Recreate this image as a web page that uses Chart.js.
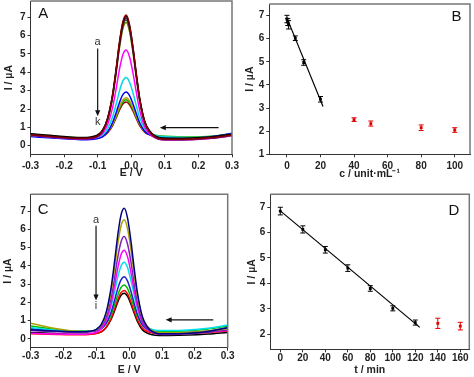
<!DOCTYPE html>
<html>
<head>
<meta charset="utf-8">
<script src="https://cdn.jsdelivr.net/npm/chart.js@4.4.1/dist/chart.umd.min.js"></script>
<style>
  html, body { margin: 0; padding: 0; background: #fff; }
  #wrap { position: relative; width: 474px; height: 377px; }
  #wrap canvas { position: absolute; left: 0; top: 0; }
</style>
</head>
<body>
<div id="wrap">
  <canvas id="chA" width="474" height="377"></canvas>
  <canvas id="chB" width="474" height="377"></canvas>
  <canvas id="chC" width="474" height="377"></canvas>
  <canvas id="chD" width="474" height="377"></canvas>
</div>
<script>
// --- Data ---

// potential axis shared by the voltammograms (V)
const potential = [-0.30,-0.22,-0.15,-0.12,-0.10,-0.085,-0.07,-0.055,-0.045,-0.035,-0.025,-0.015,-0.005,0.005,0.015,0.025,0.04,0.055,0.07,0.09,0.12,0.18,0.24,0.30];

// panel A: curves a..k (µA)
const namesA = ['a','b','c','d','e','f','g','h','i','j','k'];
const colorsA = ['#800000','#000000','#800080','#008000','#808000','#ff00ff','#00d8e8','#0000ff','#b8a000','#00b000','#a00000'];
const curveAa = [0.60,0.48,0.40,0.43,0.54,0.82,1.50,2.84,4.18,5.66,6.75,7.12,6.59,5.39,3.92,2.58,1.31,0.75,0.50,0.37,0.35,0.37,0.44,0.58];
const curveAb = [0.65,0.53,0.45,0.48,0.59,0.86,1.53,2.84,4.16,5.61,6.69,7.05,6.53,5.35,3.91,2.59,1.34,0.80,0.55,0.42,0.40,0.42,0.49,0.63];
const curveAc = [0.56,0.44,0.36,0.39,0.50,0.77,1.44,2.75,4.07,5.51,6.59,6.95,6.43,5.25,3.82,2.50,1.25,0.71,0.46,0.33,0.31,0.33,0.40,0.54];
const curveAd = [0.62,0.50,0.42,0.45,0.56,0.82,1.47,2.75,4.04,5.45,6.50,6.85,6.34,5.19,3.79,2.51,1.29,0.76,0.52,0.39,0.37,0.39,0.46,0.60];
const curveAe = [0.60,0.48,0.40,0.43,0.54,0.80,1.43,2.69,3.96,5.34,6.38,6.72,6.22,5.09,3.71,2.45,1.25,0.73,0.49,0.37,0.35,0.37,0.44,0.58];
const curveAf = [0.57,0.45,0.37,0.39,0.48,0.68,1.17,2.13,3.10,4.17,4.96,5.22,4.84,3.98,2.92,1.95,1.03,0.63,0.44,0.34,0.32,0.34,0.41,0.55];
const curveAg = [0.55,0.45,0.38,0.40,0.46,0.59,0.94,1.61,2.26,2.99,3.53,3.72,3.46,2.89,2.19,1.54,0.93,0.67,0.56,0.50,0.47,0.44,0.48,0.62];
const curveAh = [0.50,0.40,0.33,0.34,0.39,0.50,0.77,1.29,1.80,2.36,2.78,2.93,2.73,2.29,1.75,1.25,0.79,0.59,0.50,0.45,0.42,0.41,0.50,0.68];
const curveAi = [0.55,0.45,0.38,0.39,0.43,0.53,0.76,1.21,1.65,2.13,2.49,2.62,2.45,2.07,1.61,1.19,0.79,0.62,0.54,0.50,0.47,0.44,0.48,0.62];
const curveAj = [0.58,0.48,0.41,0.42,0.46,0.55,0.77,1.19,1.59,2.04,2.38,2.50,2.34,1.99,1.57,1.17,0.80,0.64,0.57,0.53,0.50,0.47,0.51,0.65];
const curveAk = [0.53,0.43,0.36,0.37,0.41,0.50,0.71,1.11,1.51,1.94,2.27,2.38,2.23,1.89,1.48,1.09,0.74,0.59,0.52,0.48,0.45,0.42,0.46,0.60];
const curvesA = [curveAa,curveAb,curveAc,curveAd,curveAe,curveAf,curveAg,curveAh,curveAi,curveAj,curveAk];

// panel C: curves a..i (µA)
const namesC = ['a','b','c','d','e','f','g','h','i'];
const colorsC = ['#000080','#a8a000','#8020c0','#ff00ff','#00e0ee','#2020d0','#00c000','#ff0000','#000000'];
const curveCa = [0.50,0.42,0.38,0.41,0.52,0.79,1.46,2.82,4.17,5.66,6.78,7.15,6.61,5.39,3.89,2.53,1.22,0.66,0.40,0.28,0.27,0.30,0.40,0.60];
const curveCb = [0.85,0.55,0.40,0.41,0.50,0.75,1.36,2.59,3.82,5.17,6.18,6.52,6.03,4.92,3.57,2.35,1.17,0.67,0.44,0.34,0.33,0.35,0.42,0.55];
const curveCc = [0.45,0.38,0.35,0.38,0.46,0.67,1.19,2.24,3.29,4.45,5.31,5.60,5.18,4.24,3.07,2.01,0.99,0.55,0.35,0.25,0.24,0.27,0.35,0.50];
const curveCd = [0.30,0.26,0.25,0.28,0.36,0.55,1.02,1.94,2.85,3.85,4.60,4.85,4.49,3.67,2.67,1.76,0.89,0.53,0.37,0.30,0.30,0.32,0.37,0.45];
const curveCe = [0.62,0.46,0.40,0.42,0.48,0.64,1.02,1.78,2.54,3.37,3.99,4.20,3.90,3.22,2.41,1.65,0.94,0.64,0.51,0.45,0.45,0.48,0.58,0.75];
const curveCf = [0.55,0.43,0.38,0.40,0.44,0.56,0.86,1.47,2.08,2.74,3.23,3.40,3.16,2.62,1.95,1.34,0.76,0.51,0.40,0.33,0.32,0.35,0.43,0.60];
const curveCg = [0.70,0.50,0.42,0.42,0.46,0.56,0.82,1.32,1.83,2.39,2.81,2.95,2.75,2.29,1.73,1.22,0.74,0.54,0.44,0.40,0.40,0.44,0.54,0.70];
const curveCh = [0.28,0.24,0.22,0.24,0.29,0.39,0.64,1.12,1.61,2.13,2.52,2.65,2.46,2.03,1.51,1.04,0.59,0.40,0.32,0.28,0.28,0.30,0.35,0.42];
const curveCi = [0.35,0.28,0.25,0.26,0.30,0.38,0.62,1.07,1.51,2.01,2.38,2.50,2.32,1.91,1.41,0.95,0.50,0.31,0.22,0.18,0.18,0.20,0.26,0.35];
const curvesC = [curveCa,curveCb,curveCc,curveCd,curveCe,curveCf,curveCg,curveCh,curveCi];

// panel B: current vs concentration
const concB = [0, 0.5, 1, 5, 10, 20];
const currentB = [6.85, 6.72, 6.60, 6.02, 4.97, 3.38];
const errB = [0.16, 0.15, 0.18, 0.10, 0.12, 0.12];
const concOutB = [40, 50, 80, 100];
const currentOutB = [2.50, 2.33, 2.15, 2.05];
const errOutB = [0.08, 0.11, 0.12, 0.10];
const fitB = [[0, 6.90], [21.5, 3.07]];

// panel D: current vs time
const timeD = [0, 20, 40, 60, 80, 100, 120];
const currentD = [6.84, 6.12, 5.32, 4.60, 3.80, 3.02, 2.46];
const errD = [0.15, 0.14, 0.13, 0.13, 0.11, 0.10, 0.10];
const timeOutD = [140, 160];
const currentOutD = [2.43, 2.32];
const errOutD = [0.20, 0.15];
const fitD = [[0, 6.85], [124, 2.27]];

// tick values
const ticksE = [-0.3, -0.2, -0.1, 0, 0.1, 0.2, 0.3];
const ticksIA = [0, 1, 2, 3, 4, 5, 6, 7];
const ticksCB = [0, 20, 40, 60, 80, 100];
const ticksIB = [1, 2, 3, 4, 5, 6, 7];
const ticksTD = [0, 20, 40, 60, 80, 100, 120, 140, 160];
const ticksID = [2, 3, 4, 5, 6, 7];

// --- Helpers ---
const FONT = "'Liberation Sans', Arial, sans-serif";
const tickFont = { family: FONT, size: 10, weight: 'bold' };
const titleFont = { family: FONT, size: 10.5, weight: 'bold' };
const AXIS = '#333';

const pts = (xs, ys) => xs.map((x, i) => ({ x: x, y: ys[i] }));

function curveSets(curves, colors, names) {
    return curves.map((c, i) => ({
        label: names[i],
        data: pts(potential, c),
        showLine: true,
        borderColor: colors[i],
        borderWidth: 1.5,
        pointRadius: 0,
        cubicInterpolationMode: 'monotone'
    }));
}

function markerSet(xs, ys, errs, color) {
    return {
        data: pts(xs, ys), yErr: errs,
        pointStyle: 'rect', pointRadius: 2, borderWidth: 0,
        backgroundColor: color, borderColor: color
    };
}

function fitSet(line) {
    return {
        data: line.map(p => ({ x: p[0], y: p[1] })),
        showLine: true, borderColor: '#000', borderWidth: 1.2, pointRadius: 0
    };
}

function scalesFor(o) {
    return {
        x: {
            type: 'linear', min: o.xMin, max: o.xMax,
            afterBuildTicks: s => { s.ticks = o.xTicks.map(v => ({ value: v })); },
            afterFit: s => { s.height = o.xH; s.paddingLeft = 0; s.paddingRight = 0; },
            ticks: { font: tickFont, color: '#222', padding: o.xPad, maxRotation: 0, autoSkip: false,
                     callback: o.xFmt || (v => v) },
            grid: { drawOnChartArea: false, tickLength: 3, color: AXIS },
            border: { color: AXIS, width: 1 },
            title: { display: true, text: o.xTitle, font: titleFont, color: '#222', padding: { top: 0, bottom: o.xTitlePad } }
        },
        y: {
            type: 'linear', min: o.yMin, max: o.yMax,
            afterBuildTicks: s => { s.ticks = o.yTicks.map(v => ({ value: v })); },
            afterFit: s => { s.width = o.yW; s.paddingTop = 0; s.paddingBottom = 0; },
            ticks: { font: tickFont, color: '#222', padding: 2, autoSkip: false },
            grid: { drawOnChartArea: false, tickLength: 3, color: AXIS },
            border: { color: AXIS, width: 1 },
            title: { display: true, text: 'I / µA', font: titleFont, color: '#222', padding: { top: o.yTitlePad, bottom: 0 } }
        }
    };
}

function arrow(ctx, x1, y1, x2, y2) {
    const ang = Math.atan2(y2 - y1, x2 - x1), L = 6, W = 2.6;
    ctx.beginPath();
    ctx.moveTo(x1, y1);
    ctx.lineTo(x2 - Math.cos(ang) * L * 0.8, y2 - Math.sin(ang) * L * 0.8);
    ctx.stroke();
    ctx.beginPath();
    ctx.moveTo(x2, y2);
    ctx.lineTo(x2 - Math.cos(ang) * L - Math.sin(ang) * W, y2 - Math.sin(ang) * L + Math.cos(ang) * W);
    ctx.lineTo(x2 - Math.cos(ang) * L + Math.sin(ang) * W, y2 - Math.sin(ang) * L - Math.cos(ang) * W);
    ctx.closePath();
    ctx.fill();
}

// frame, error bars, arrows and labels
function deco(cfg) {
    return {
        id: 'deco',
        afterDatasetsDraw(chart) {
            const { ctx, scales: { x, y } } = chart;
            ctx.save();
            chart.data.datasets.forEach((ds, i) => {
                if (!ds.yErr) return;
                const meta = chart.getDatasetMeta(i);
                ctx.strokeStyle = ds.borderColor;
                ctx.lineWidth = 1;
                meta.data.forEach((pt, j) => {
                    const v = ds.data[j].y, e = ds.yErr[j];
                    const y1 = y.getPixelForValue(v + e), y2 = y.getPixelForValue(v - e);
                    ctx.beginPath();
                    ctx.moveTo(pt.x, y1); ctx.lineTo(pt.x, y2);
                    ctx.moveTo(pt.x - 2.5, y1); ctx.lineTo(pt.x + 2.5, y1);
                    ctx.moveTo(pt.x - 2.5, y2); ctx.lineTo(pt.x + 2.5, y2);
                    ctx.stroke();
                });
            });
            ctx.strokeStyle = '#111';
            ctx.fillStyle = '#111';
            ctx.lineWidth = 1.2;
            (cfg.arrows || []).forEach(a => {
                arrow(ctx, x.getPixelForValue(a[0]), y.getPixelForValue(a[1]),
                      x.getPixelForValue(a[2]), y.getPixelForValue(a[3]));
            });
            ctx.textAlign = 'center';
            ctx.textBaseline = 'middle';
            (cfg.labels || []).forEach(t => {
                ctx.font = t[3] || `11px ${FONT}`;
                ctx.fillStyle = t[4] || '#333';
                ctx.fillText(t[2], x.getPixelForValue(t[0]), y.getPixelForValue(t[1]));
            });
            ctx.restore();
        },
        afterDraw(chart) {
            const { ctx, chartArea: ca } = chart;
            ctx.save();
            ctx.strokeStyle = '#777';
            ctx.lineWidth = 1.5;
            ctx.beginPath();
            ctx.moveTo(ca.left, ca.top);
            ctx.lineTo(ca.right, ca.top);
            ctx.lineTo(ca.right, ca.bottom);
            ctx.stroke();
            ctx.restore();
        }
    };
}

function makeChart(id, datasets, pad, sc, cfg) {
    return new Chart(document.getElementById(id), {
        type: 'scatter',
        data: { datasets: datasets },
        options: {
            responsive: false,
            animation: false,
            layout: { padding: pad },
            scales: scalesFor(sc),
            plugins: { legend: { display: false }, tooltip: { enabled: false } }
        },
        plugins: [deco(cfg)]
    });
}

const fmtE = v => v.toFixed(1);
const letterFont = `15px ${FONT}`;

// A
makeChart('chA', curveSets(curvesA, colorsA, namesA),
    { left: 0, top: 1, right: 242, bottom: 189.7 },
    { xMin: -0.3, xMax: 0.3, xTicks: ticksE, xFmt: fmtE, xH: 33, xPad: 3, xTitle: 'E / V', xTitlePad: 8,
      yMin: -0.47, yMax: 7.89, yTicks: ticksIA, yW: 30.5, yTitlePad: 2.7 },
    { arrows: [[-0.1, 5.3, -0.1, 1.6], [0.26, 0.98, 0.085, 0.98]],
      labels: [[-0.1, 5.65, 'a'], [-0.1, 1.3, 'k'], [-0.262, 7.18, 'A', letterFont, '#111']] });

// B
makeChart('chB', [
        markerSet(concB, currentB, errB, '#000000'),
        markerSet(concOutB, currentOutB, errOutB, '#e00000'),
        fitSet(fitB)
    ],
    { left: 240, top: 1, right: 3.7, bottom: 189.7 },
    { xMin: -10.5, xMax: 109.1, xTicks: ticksCB, xH: 33, xPad: 3, xTitle: 'c / unit·mL⁻¹', xTitlePad: 6.5,
      yMin: 1, yMax: 7.5, yTicks: ticksIB, yW: 29.3, yTitlePad: 4 },
    { labels: [[101, 6.95, 'B', letterFont, '#111']] });

// C
makeChart('chC', curveSets(curvesC, colorsC, namesC),
    { left: 0, top: 194.3, right: 246.3, bottom: 0 },
    { xMin: -0.3, xMax: 0.3, xTicks: ticksE, xFmt: fmtE, xH: 29.3, xPad: 0, xTitle: 'E / V', xTitlePad: 1,
      yMin: -0.49, yMax: 7.92, yTicks: ticksIA, yW: 30.7, yTitlePad: 2.2 },
    { arrows: [[-0.101, 6.2, -0.101, 2.1], [0.256, 1.04, 0.111, 1.04]],
      labels: [[-0.101, 6.5, 'a'], [-0.101, 1.8, 'i'], [-0.262, 7.06, 'C', letterFont, '#111']] });

// D
makeChart('chD', [
        markerSet(timeD, currentD, errD, '#000000'),
        markerSet(timeOutD, currentOutD, errOutD, '#e00000'),
        fitSet(fitD)
    ],
    { left: 240, top: 194.3, right: 4.7, bottom: 0 },
    { xMin: -8.9, xMax: 168, xTicks: ticksTD, xH: 27.7, xPad: 0, xTitle: 't / min', xTitlePad: 0.4,
      yMin: 1.41, yMax: 7.5, yTicks: ticksID, yW: 30.3, yTitlePad: 5.7 },
    { labels: [[154.4, 6.84, 'D', letterFont, '#111']] });
</script>
</body>
</html>
